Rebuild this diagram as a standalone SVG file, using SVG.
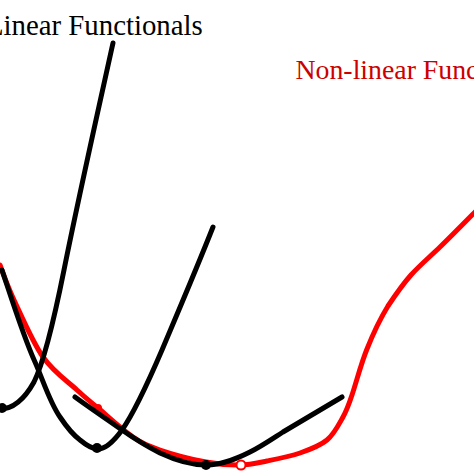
<svg xmlns="http://www.w3.org/2000/svg" width="474" height="474" viewBox="0 0 474 474">
<style>
.t{font-family:"Liberation Serif","Times New Roman",serif;}
.blk{fill:none;stroke:#000;stroke-width:5;stroke-linecap:round;stroke-linejoin:round;}
.red{fill:none;stroke:#f00;stroke-width:5;stroke-linecap:round;stroke-linejoin:round;}
</style>
<rect width="474" height="474" fill="#fff"/>
<g id="label-linear"><text class="t" x="-14" y="35" font-size="28.8" fill="#000">Linear Functionals</text></g>
<g id="label-nonlinear"><text class="t" x="295.5" y="79" font-size="27.8" fill="#cc0000">Non-linear Functionals</text></g>
<g id="connectors">
<path id="red-curve" class="red" d="M0,265 C2.3,270.8 6.8,284.7 14,300 C21.2,315.3 32.5,342 43,357 C53.5,372 67.8,381.5 77,390 C86.2,398.5 88.7,400.2 98,408 C107.3,415.8 122.7,430 133,437 C143.3,444 147.8,445.8 160,450 C172.2,454.2 192.7,459.5 206,462 C219.3,464.5 229.8,465.2 240,465 C250.2,464.8 257,463 267,461 C277,459 290,456.5 300,453 C310,449.5 319.8,446 327,440 C334.2,434 338.8,424.5 343,417 C347.2,409.5 349,404 352,395 C356,383.3 361.2,363 367,349 C373,334 380,319 388,306 C396,294 403,284 411,275 C420,265 429.3,257.3 440,247 C450.7,236.7 468.3,218.7 476,211"/>
<circle cx="98" cy="408" r="4" fill="#f00"/>
<path id="curve-a" class="blk" d="M0,409 C12,409 24,400 34,382 C44,362 54,320 64,270 C78,200 96,120 113,43"/>
<path id="curve-b" class="blk" d="M2,270 C12,300 24,338 35,362 C43,380 50,403 60,417 C66,426 72,434 80,440 C86,445 92,449 98,449 C106,449 114,441 122,430 C136,410 150,378 162,350 C178,312 196,270 213,227"/>
<path id="curve-c" class="blk" d="M75,397 C90,408 108,420 122,430 C135,439 148,447 160,453 C175,460 192,465 206,465 C222,465 236,459 250,452 C262,446 272,439 283,432 L342,397"/>
</g>
<g id="min-a"><circle cx="2" cy="408" r="5" fill="#000"/></g>
<g id="min-b"><circle cx="97" cy="448" r="5" fill="#000"/></g>
<g id="min-c"><circle cx="206" cy="465" r="5" fill="#000"/></g>
<g id="min-red"><circle cx="241" cy="465" r="4.5" fill="#fff" stroke="#f00" stroke-width="2"/></g>
</svg>
